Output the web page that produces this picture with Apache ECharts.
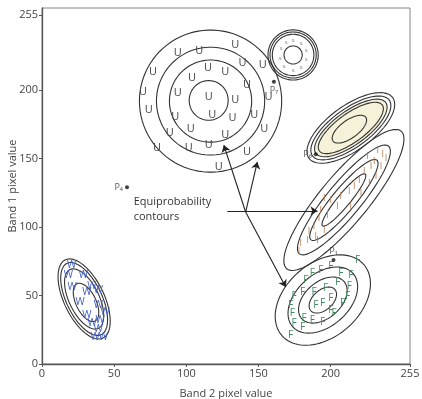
<!DOCTYPE html>
<html><head><meta charset="utf-8">
<script src="https://cdn.jsdelivr.net/npm/echarts@6/dist/echarts.min.js"></script>
<style>html,body{margin:0;padding:0;background:#fff}#c{width:422px;height:399px}</style>
</head><body><div id="c"></div>
<script>
// Tick labels
const xTicks = [0, 50, 100, 150, 200, 255];
const yTicks = [0, 50, 100, 150, 200, 255];

// Equiprobability contours: [centerX, centerY, semiAxisA, semiAxisB, angleDeg]
const urbanContours = [[116.8,192,49.3,51.9,0],[116.8,192,37.5,39.4,0],[116.8,192,28.5,30,0],[115.5,192.5,13.5,14.5,0]];
const sandContours  = [[174,225.7,17.4,18.3,0],[174,225.7,16,16.8,0],[174,225.7,14.4,15.1,0],[174,225.7,6.3,6.6,0]];
const cornContours  = [[214,172.4,36.5,16,38],[214,172.4,33.5,13.8,38],[214,172.4,30.5,12,38],[214,172.4,27.5,10.2,38],[213,171.5,14.3,6.4,38]];
const hayContours   = [[209.2,119.8,64,17,52],[209.2,119.8,50,12,52],[209.2,119.8,37,8.2,52],[209.2,119.8,24,4.5,52]];
const forestContours= [[194.6,46.7,38.5,26.4,45],[194.6,46.7,28.6,18.6,45],[194.6,46.7,20,12.9,45],[194.6,46.7,11.4,7.1,45]];
const waterContours = [[29.2,47.5,31.4,14,-66],[29.2,47.5,28.6,12.4,-66],[29.2,47.5,23.6,10.5,-66],[30.5,45,15,7,-66]];

// Training samples [band2, band1]
const urbanPts = [[134,233],[94,227],[109,229],[77,213.5],[115,216],[127,213],[139,219.6],[153,218.4],[104,208.7],[70,199],[94,197.7],[115.6,195.3],[134,192.8],[142,203.8],[157,195.3],[74,185.5],[92.4,180.6],[118,182],[132,179.5],[147,182],[88.5,168.5],[103,172],[127,167.3],[115.6,160],[154,172],[79.7,157.6],[101.7,157.6],[142,155],[122.5,144]];
const sandPts = [[174,236.7],[179.6,234.5],[183.1,229.4],[183.1,222.8],[179.6,216.9],[174,214.8],[167.8,217.7],[165,223.5],[165.7,230.8],[169.2,235.2]];
const hayPts = [[232.6,156.3],[236.1,152.7],[238.4,150.3],[230.2,147.8],[227.9,144.1],[234.9,144.1],[223.3,140.5],[231.4,136.8],[219.8,134.4],[226.8,132],[216.3,129.5],[221,124.7],[212.9,125.9],[200.1,119.8],[195.5,121],[204.8,114.9],[193.2,112.5],[197.8,108.8],[192,106.4],[188.5,100.3],[195.5,97.9],[185.1,96.6],[189.7,93],[183.9,90.6],[179.3,88.2],[190.9,90.6],[207.1,122.2],[214,114.9],[225.6,151.4],[178.1,82]];
const forestPts = [[172.3,21.2],[174.6,29.7],[173.5,37],[172.3,43.1],[174.6,49.2],[180.5,52.8],[182.8,61.4],[187.4,66.3],[193.2,68.7],[200.1,71.1],[207.1,66.3],[214,65],[218.7,76],[212.9,56.5],[211.7,49.2],[208.3,44.3],[202.4,37],[194.4,30.9],[187.4,32.1],[181.6,33.4],[194.4,44.3],[196.7,55.3],[188.5,52.8],[200.1,48],[189.7,43.1],[200.1,39.4],[180.5,27.2],[204.8,60.1]];
const waterPts = [[20.6,72.3],[18.3,65],[28.7,65],[20.8,56.2],[34.5,56.5],[31.1,52.6],[39.1,54.1],[26.4,45.3],[39.1,43.1],[43.8,38.2],[31.1,35.8],[40.3,32.1],[34.7,29.9],[39.1,25.6],[36.8,19.7],[42.6,19.9]];

// Unknown pixels
const pixelNames = ['P₄', 'P₇', 'P₆', 'P₁'];
const pixelPts = [[58.9,129],[160.7,206.2],[189.7,153.2],[202,76]];
const pixelLabelSide = ['left', 'bottom', 'left', 'top'];

// Annotation
const noteText = ['Equiprobability', 'contours'];
const notePos = [[63.5,113]];
const arrows = [[128.4,111.8,190.9,111.8],[141.1,111,126,159.9],[141.1,111,149.2,147.6],[141.1,111,168.9,56.2]];

const FONT = '"Open Sans", "Noto Sans", sans-serif';

function ellipseSeries(name, data, fillIdx, fillColor) {
  return {
    type: 'custom', name, coordinateSystem: 'cartesian2d', data, encode: {x: 0, y: 1}, silent: true,
    renderItem(params, api) {
      const cx = api.value(0), cy = api.value(1), a = api.value(2), b = api.value(3);
      const ang = api.value(4) * Math.PI / 180;
      const pts = [];
      for (let i = 0; i <= 90; i++) {
        const t = i / 90 * Math.PI * 2;
        const dx = a * Math.cos(t) * Math.cos(ang) - b * Math.sin(t) * Math.sin(ang);
        const dy = a * Math.cos(t) * Math.sin(ang) + b * Math.sin(t) * Math.cos(ang);
        pts.push(api.coord([cx + dx, cy + dy]));
      }
      return {type: 'polygon', shape: {points: pts},
        style: {fill: (fillIdx === params.dataIndex) ? fillColor : 'none', stroke: '#333', lineWidth: 1.1}};
    }
  };
}

function letterSeries(name, data, letter, color, size) {
  return {
    type: 'custom', name, coordinateSystem: 'cartesian2d', data, encode: {x: 0, y: 1}, silent: true,
    renderItem(params, api) {
      const p = api.coord([api.value(0), api.value(1)]);
      return {type: 'text', x: p[0], y: p[1],
        style: {text: letter, fill: color, font: size + 'px ' + FONT, align: 'center', verticalAlign: 'middle'}};
    }
  };
}

const chart = echarts.init(document.getElementById('c'), null, {renderer: 'canvas'});
chart.setOption({
  animation: false,
  backgroundColor: '#fff',
  grid: {left: 42, right: 12, top: 8, bottom: 35, show: true, borderColor: '#888', borderWidth: 1,
    containLabel: false, outerBoundsMode: 'none'},
  xAxis: {
    type: 'value', min: 0, max: 255,
    name: 'Band 2 pixel value', nameLocation: 'middle', nameGap: 24, nameMoveOverlap: false,
    nameTextStyle: {color: '#444', fontSize: 11, fontFamily: FONT},
    axisLine: {show: true, lineStyle: {color: '#555', width: 1.3}},
    axisTick: {show: true, length: 3, customValues: xTicks, lineStyle: {color: '#555'}},
    axisLabel: {customValues: xTicks, color: '#444', fontSize: 11, fontFamily: FONT, margin: 4},
    splitLine: {show: false}
  },
  yAxis: {
    type: 'value', min: 0, max: 260,
    name: 'Band 1 pixel value', nameLocation: 'middle', nameGap: 24, nameMoveOverlap: false,
    nameTextStyle: {color: '#444', fontSize: 11, fontFamily: FONT},
    axisLine: {show: true, lineStyle: {color: '#555', width: 1.3}},
    axisTick: {show: true, length: 3, customValues: yTicks, lineStyle: {color: '#555'}},
    axisLabel: {customValues: yTicks, color: '#444', fontSize: 11, fontFamily: FONT, margin: 4},
    splitLine: {show: false}
  },
  series: [
    ellipseSeries('corn', cornContours, 2, '#f6f2da'),
    ellipseSeries('urban', urbanContours),
    ellipseSeries('sand', sandContours),
    ellipseSeries('hay', hayContours),
    ellipseSeries('forest', forestContours),
    ellipseSeries('water', waterContours),
    letterSeries('U', urbanPts, 'U', '#444', 11),
    letterSeries('S', sandPts, 's', '#777', 6),
    letterSeries('H', hayPts, 'I', '#b87a4b', 9),
    letterSeries('F', forestPts, 'F', '#3f8a5f', 10),
    letterSeries('W', waterPts, 'W', '#3d5cc4', 10),
    {
      type: 'lines', coordinateSystem: 'cartesian2d', silent: true,
      symbol: ['none', 'arrow'], symbolSize: 7,
      lineStyle: {color: '#222', width: 1.1, opacity: 1},
      data: arrows.map(a => ({coords: [[a[0], a[1]], [a[2], a[3]]]}))
    },
    {
      type: 'scatter', silent: true, symbolSize: 4, itemStyle: {color: '#111'},
      data: pixelPts.map((p, i) => ({value: p, name: pixelNames[i], label: {position: pixelLabelSide[i]}})),
      label: {show: true, formatter: '{b}', fontSize: 9, color: '#333', fontFamily: FONT, distance: 2}
    },
    {
      type: 'custom', coordinateSystem: 'cartesian2d', data: notePos, encode: {x: 0, y: 1}, silent: true,
      renderItem(params, api) {
        const p = api.coord([api.value(0), api.value(1)]);
        return {type: 'text', x: p[0], y: p[1],
          style: {text: noteText.join('\n'), fill: '#333', font: '11px ' + FONT, lineHeight: 15,
            align: 'left', verticalAlign: 'middle'}};
      }
    }
  ]
});
</script></body></html>
